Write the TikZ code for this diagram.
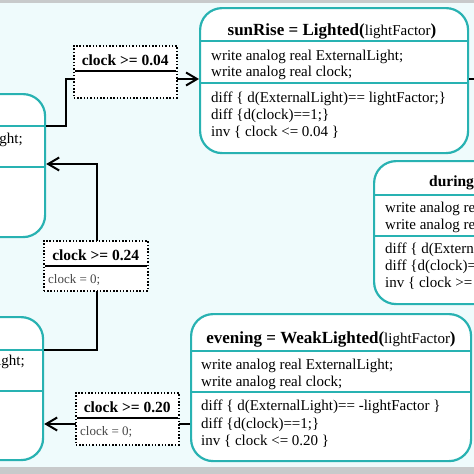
\documentclass[tikz,border=0pt]{standalone}
\usepackage{fontspec}
\setmainfont{Liberation Serif}
\usetikzlibrary{arrows.meta,calc}
\definecolor{stateline}{RGB}{40,178,178}
\definecolor{backcyan}{RGB}{239,251,252}
\definecolor{bargray}{RGB}{200,202,203}
\definecolor{resetgray}{RGB}{70,70,70}

\begin{document}
\begin{tikzpicture}[x=1pt,y=-1pt,
	state/.style={draw=stateline, line width=2.2pt, fill=white, rounded corners=22pt,
		minimum width=#1, minimum height=144pt, inner sep=0pt, anchor=north west},
	sep/.style={draw=stateline, line width=1.6pt},
	body/.style={font=\fontsize{15}{17}\selectfont, inner sep=0pt, anchor=base west},
	stitle/.style={font=\bfseries\fontsize{17}{19}\selectfont, inner sep=0pt, anchor=base},
	guard/.style={draw, line width=1.5pt, dash pattern=on 1.5pt off 1.8pt, fill=white,
		minimum width=103pt, minimum height=52pt, inner sep=0pt, anchor=north west},
	gtext/.style={font=\bfseries\fontsize{15.5}{17}\selectfont, inner sep=0pt, anchor=base},
	reset/.style={font=\fontsize{13}{15}\selectfont, text=resetgray, inner sep=0pt, anchor=base west},
	flow/.style={line width=2pt, -{Straight Barb[length=11pt,width=13pt]}}]
		\useasboundingbox (0,0) rectangle (474,474);
		\fill[backcyan] (0,0) rectangle (474,474);
		\clip (0,0) rectangle (474,474);
		% Draw states.
		\node[state=268pt, minimum height=145pt] (sr) at (199,7) {};
		\node[state=224pt, minimum height=143pt] (lu) at (-180,93) {};
		\node[state=270pt, minimum height=143pt] (du) at (373,160) {};
		\node[state=224pt, minimum height=143pt] (ll) at (-182,316) {};
		\node[state=280pt, minimum height=147pt] (ev) at (190,313) {};
		\draw[sep] ($(sr.north west)+(0,34)$) -- ($(sr.north east)+(0,34)$);
		\draw[sep] ($(sr.north west)+(0,76)$) -- ($(sr.north east)+(0,76)$);
		\draw[sep] ($(lu.north west)+(0,33)$) coordinate (luA) -- ($(lu.north east)+(0,33)$) coordinate (luB);
		\draw[sep] ($(lu.north west)+(0,74)$) -- ($(lu.north east)+(0,74)$);
		\draw[sep] ($(du.north west)+(0,35)$) -- ($(du.north east)+(0,35)$);
		\draw[sep] ($(du.north west)+(0,76)$) -- ($(du.north east)+(0,76)$);
		\draw[sep] ($(ll.north west)+(0,34)$) -- ($(ll.north east)+(0,34)$) coordinate (llB);
		\draw[sep] ($(ll.north west)+(0,75)$) -- ($(ll.north east)+(0,75)$);
		\draw[sep] ($(ev.north west)+(0,38)$) -- ($(ev.north east)+(0,38)$);
		\draw[sep] ($(ev.north west)+(0,79)$) -- ($(ev.north east)+(0,79)$);
		
		% State texts.
		\node[stitle] (srTitle) at (332,35) {sunRise = Lighted(\mdseries\fontsize{15}{17}\selectfont lightFactor\bfseries\fontsize{17}{19}\selectfont)};
		\node[body] (srW1) at (211,60) {write analog real ExternalLight;};
		\node[body] (srW2) at (211,76) {write analog real clock;};
		\node[body] (srD1) at (211,102) {diff \{ d(ExternalLight)== lightFactor;\}};
		\node[body] (srD2) at (211,119) {diff \{d(clock)==1;\}};
		\node[body] (srInv) at (211,136) {inv \{ clock <= 0.04 \}};
		\node[body, anchor=base east] (luW1) at (23,143) {write analog real ExternalLight;};
		\node[stitle, anchor=base west, font=\bfseries\fontsize{15.5}{17}\selectfont] (duTitle) at (429,186) {during};
		\node[body] (duW1) at (385,212) {write analog real ExternalLight;};
		\node[body] (duW2) at (385,229) {write analog real clock;};
		\node[body] (duD1) at (385,253) {diff \{ d(ExternalLight)};
		\node[body] (duD2) at (385,270) {diff \{d(clock)==};
		\node[body] (duInv) at (385,287) {inv \{ clock >=};
		\node[body, anchor=base east] (llW1) at (25,365) {write analog real ExternalLight;};
		\node[stitle] (evTitle) at (331,343) {evening = WeakLighted(\mdseries\fontsize{15}{17}\selectfont lightFactor\bfseries\fontsize{17}{19}\selectfont)};
		\node[body] (evW1) at (201,369) {write analog real ExternalLight;};
		\node[body] (evW2) at (201,386) {write analog real clock;};
		\node[body] (evD1) at (201,410) {diff \{ d(ExternalLight)== -lightFactor \}};
		\node[body] (evD2) at (201,428) {diff \{d(clock)==1;\}};
		\node[body] (evInv) at (201,445) {inv \{ clock <= 0.20 \}};
		
		% Transitions.
		\coordinate (k1) at (66,79);
		\coordinate (k2) at (97,164);
		\coordinate (k3) at (490,79);
		\draw[flow] (luB) -| (k1) -- (sr.west |- k1);
		\draw[flow] (llB) -| (k2) -- (lu.east |- k2);
		\draw[flow] (ev.west |- 0,424) -- (ll.east |- 0,424);
		\draw[line width=2pt] (sr.east |- k3) -- (k3);
		
		% Guards.
		\node[guard] (g1) at (73,45) {};
		\node[guard, minimum width=104pt, minimum height=50pt] (g2) at (43,240) {};
		\node[guard] (g3) at (75,392) {};
		\node[gtext] (g1Text) at ($(g1.north)+(0,20)$) {clock >= 0.04};
		\node[gtext] (g2Text) at ($(g2.north)+(0,20)$) {clock >= 0.24};
		\node[gtext] (g3Text) at ($(g3.north)+(0,20)$) {clock >= 0.20};
		\draw[line width=1.5pt] ($(g1.north west)+(2,26)$) -- ($(g1.north east)+(-2,26)$);
		\draw[line width=1.5pt] ($(g2.north west)+(2,26)$) -- ($(g2.north east)+(-2,26)$);
		\draw[line width=1.5pt] ($(g3.north west)+(2,26)$) -- ($(g3.north east)+(-2,26)$);
		\node[reset] (g2Reset) at ($(g2.north west)+(5,43)$) {clock = 0;};
		\node[reset] (g3Reset) at ($(g3.north west)+(5,43)$) {clock = 0;};
		
		\fill[bargray] (0,0) rectangle (474,3);
		\fill[bargray] (0,467) rectangle (474,474);
	\end{tikzpicture}
\end{document}
